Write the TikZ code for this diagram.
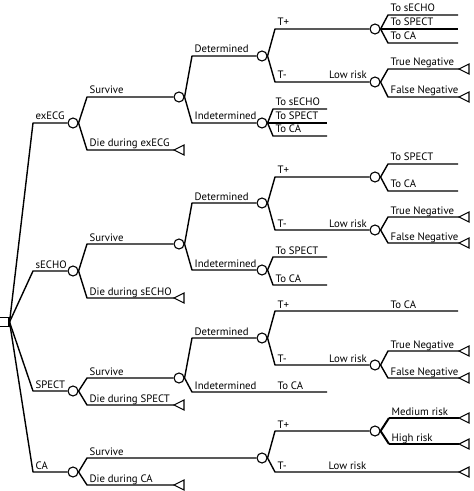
\documentclass[tikz,border=0pt]{standalone}
\usepackage{fontspec}
\setmainfont{PT Sans}
\newcommand\lblfont{\fontsize{10.8}{12}\selectfont}
\tikzset{
  ln/.style={line width=1.4bp, line join=round},
  thk/.style={line width=2bp},
  chance/.style={circle, draw, line width=1.1bp, minimum size=10bp, inner sep=0pt, fill=white},
  rootbox/.style={rectangle, draw, line width=1.1bp, minimum width=12bp, minimum height=9bp, inner sep=0pt},
  lbl/.style={anchor=base west, xshift=2.5bp, yshift=3bp, inner sep=0pt, font=\lblfont},
  lblr/.style={anchor=base east, yshift=3bp, inner sep=0pt, font=\lblfont},
  termtri/.style={line width=1.1bp}
}
\newcommand\term[1]{\draw[termtri] (#1) -- ++(10,-5) -- ++(0,10) -- cycle;}
\begin{document}
\begin{tikzpicture}[x=1bp,y=-1bp]
\useasboundingbox (0,0) rectangle (474,491);
% root
\node[rootbox] (root) at (3,322) {};
% level 1
\node[chance] (e1) at (73,123) {};
\node[chance] (s1) at (73,271) {};
\node[chance] (p1) at (73,391) {};
\node[chance] (c1) at (73,472) {};
\coordinate (ke1) at (33,123);
\coordinate (ks1) at (33,271);
\coordinate (kp1) at (33,391);
\coordinate (kc1) at (33,472);
\draw[ln] (root.east) -- (ke1) -- (e1);
\draw[ln] (root.east) -- (ks1) -- (s1);
\draw[ln] (root.east) -- (kp1) -- (p1);
\draw[ln] (root.east) -- (kc1) -- (c1);
\node[lbl] (Le1) at (ke1) {exECG};
\node[lbl] (Ls1) at (ks1) {sECHO};
\node[lbl] (Lp1) at (kp1) {SPECT};
\node[lbl] (Lc1) at (kc1) {CA};

% ================= exECG =================
\node[chance] (e2) at (179,97) {};
\coordinate (ke2) at (87,97);
\coordinate (ke2d) at (87,150);
\coordinate (te2d) at (174,150);
\draw[ln] (e1.east) -- (ke2) -- (e2);
\draw[ln] (e1.east) -- (ke2d) -- (te2d);
\term{te2d}
\node[lbl] (Le2) at (ke2) {Survive};
\node[lbl] (Le2d) at (ke2d) {Die during exECG};

\node[chance] (e3) at (262,56) {};
\node[chance] (e3i) at (262,123) {};
\coordinate (ke3) at (192,56);
\coordinate (ke3i) at (192,123);
\draw[ln] (e2.east) -- (ke3) -- (e3);
\draw[ln] (e2.east) -- (ke3i) -- (e3i);
\node[lbl] (Le3) at (ke3) {Determined};
\node[lbl] (Le3i) at (ke3i) {Indetermined};

\node[chance] (e4p) at (375,29) {};
\node[chance] (e4n) at (375,82) {};
\coordinate (ke4p) at (275,29);
\coordinate (ke4n) at (275,82);
\draw[ln] (e3.east) -- (ke4p) -- (e4p);
\draw[ln] (e3.east) -- (ke4n) -- (e4n);
\node[lbl] (Le4p) at (ke4p) {T+};
\node[lbl] (Le4n) at (ke4n) {T-};
\node[lblr] (Le4nr) at (367,82) {Low risk};

\coordinate (ke5a) at (388,15); \coordinate (xe5a) at (458,15);
\coordinate (xe5b) at (458,29);
\coordinate (ke5c) at (388,43); \coordinate (xe5c) at (458,43);
\draw[ln] (e4p.east) -- (ke5a) -- (xe5a);
\draw[ln] (e4p.east) -- (xe5b);
\draw[ln] (e4p.east) -- (ke5c) -- (xe5c);
\node[lbl] (Le5a) at (ke5a) {To sECHO};
\node[lbl] (Le5b) at (388,29) {To SPECT};
\node[lbl] (Le5c) at (ke5c) {To CA};

\coordinate (ke5t) at (388,69); \coordinate (te5t) at (459,69);
\coordinate (ke5f) at (388,97); \coordinate (te5f) at (459,97);
\draw[ln] (e4n.east) -- (ke5t) -- (te5t);
\draw[ln] (e4n.east) -- (ke5f) -- (te5f);
\term{te5t}
\term{te5f}
\node[lbl] (Le5t) at (ke5t) {True Negative};
\node[lbl] (Le5f) at (ke5f) {False Negative};

\coordinate (ke4a) at (273,109); \coordinate (xe4a) at (327,109);
\coordinate (xe4b) at (327,123);
\coordinate (ke4c) at (273,136); \coordinate (xe4c) at (327,136);
\draw[ln] (e3i.east) -- (ke4a) -- (xe4a);
\draw[ln] (e3i.east) -- (xe4b);
\draw[ln] (e3i.east) -- (ke4c) -- (xe4c);
\node[lbl] (Le4a) at (ke4a) {To sECHO};
\node[lbl] (Le4b) at (273,123) {To SPECT};
\node[lbl] (Le4c) at (ke4c) {To CA};

% ================= sECHO =================
\node[chance] (s2) at (179,244) {};
\coordinate (ks2) at (87,244);
\coordinate (ks2d) at (87,298);
\coordinate (ts2d) at (174,298);
\draw[ln] (s1.east) -- (ks2) -- (s2);
\draw[ln] (s1.east) -- (ks2d) -- (ts2d);
\term{ts2d}
\node[lbl] (Ls2) at (ks2) {Survive};
\node[lbl] (Ls2d) at (ks2d) {Die during sECHO};

\node[chance] (s3) at (262,203) {};
\node[chance] (s3i) at (262,270) {};
\coordinate (ks3) at (192,203);
\coordinate (ks3i) at (192,270);
\draw[ln] (s2.east) -- (ks3) -- (s3);
\draw[ln] (s2.east) -- (ks3i) -- (s3i);
\node[lbl] (Ls3) at (ks3) {Determined};
\node[lbl] (Ls3i) at (ks3i) {Indetermined};

\node[chance] (s4p) at (375,177) {};
\node[chance] (s4n) at (375,230) {};
\coordinate (ks4p) at (275,177);
\coordinate (ks4n) at (275,230);
\draw[ln] (s3.east) -- (ks4p) -- (s4p);
\draw[ln] (s3.east) -- (ks4n) -- (s4n);
\node[lbl] (Ls4p) at (ks4p) {T+};
\node[lbl] (Ls4n) at (ks4n) {T-};
\node[lblr] (Ls4nr) at (367,230) {Low risk};

\coordinate (ks5a) at (388,164); \coordinate (xs5a) at (458,164);
\coordinate (ks5c) at (388,191); \coordinate (xs5c) at (458,191);
\draw[ln] (s4p.east) -- (ks5a) -- (xs5a);
\draw[ln] (s4p.east) -- (ks5c) -- (xs5c);
\node[lbl] (Ls5a) at (ks5a) {To SPECT};
\node[lbl] (Ls5c) at (ks5c) {To CA};

\coordinate (ks5t) at (388,217); \coordinate (ts5t) at (459,217);
\coordinate (ks5f) at (388,243); \coordinate (ts5f) at (459,243);
\draw[ln] (s4n.east) -- (ks5t) -- (ts5t);
\draw[ln] (s4n.east) -- (ks5f) -- (ts5f);
\term{ts5t}
\term{ts5f}
\node[lbl] (Ls5t) at (ks5t) {True Negative};
\node[lbl] (Ls5f) at (ks5f) {False Negative};

\coordinate (ks4a) at (273,257); \coordinate (xs4a) at (327,257);
\coordinate (ks4c) at (273,285); \coordinate (xs4c) at (327,285);
\draw[ln] (s3i.east) -- (ks4a) -- (xs4a);
\draw[ln] (s3i.east) -- (ks4c) -- (xs4c);
\node[lbl] (Ls4a) at (ks4a) {To SPECT};
\node[lbl] (Ls4c) at (ks4c) {To CA};

% ================= SPECT =================
\node[chance] (p2) at (179,378) {};
\coordinate (kp2) at (87,378);
\coordinate (kp2d) at (87,405);
\coordinate (tp2d) at (174,405);
\draw[ln] (p1.east) -- (kp2) -- (p2);
\draw[ln] (p1.east) -- (kp2d) -- (tp2d);
\term{tp2d}
\node[lbl] (Lp2) at (kp2) {Survive};
\node[lbl] (Lp2d) at (kp2d) {Die during SPECT};

\node[chance] (p3) at (262,338) {};
\coordinate (kp3) at (192,338);
\coordinate (kp3i) at (192,392);
\coordinate (xp3i) at (327,392);
\draw[ln] (p2.east) -- (kp3) -- (p3);
\draw[ln] (p2.east) -- (kp3i) -- (xp3i);
\node[lbl] (Lp3) at (kp3) {Determined};
\node[lbl] (Lp3i) at (kp3i) {Indetermined};
\node[lbl] (Lp3ib) at (275,392) {To CA};

\node[chance] (p4n) at (375,365) {};
\coordinate (kp4p) at (275,311);
\coordinate (xp4p) at (458,311);
\coordinate (kp4n) at (275,365);
\draw[ln] (p3.east) -- (kp4p) -- (xp4p);
\draw[ln] (p3.east) -- (kp4n) -- (p4n);
\node[lbl] (Lp4p) at (kp4p) {T+};
\node[lbl] (Lp4pb) at (388,311) {To CA};
\node[lbl] (Lp4n) at (kp4n) {T-};
\node[lblr] (Lp4nr) at (367,365) {Low risk};

\coordinate (kp5t) at (388,351); \coordinate (tp5t) at (459,351);
\coordinate (kp5f) at (388,378); \coordinate (tp5f) at (459,378);
\draw[ln] (p4n.east) -- (kp5t) -- (tp5t);
\draw[ln] (p4n.east) -- (kp5f) -- (tp5f);
\term{tp5t}
\term{tp5f}
\node[lbl] (Lp5t) at (kp5t) {True Negative};
\node[lbl] (Lp5f) at (kp5f) {False Negative};

% ================= CA =================
\node[chance] (c3) at (262,458) {};
\coordinate (kc2) at (87,458);
\coordinate (kc2d) at (87,485);
\coordinate (tc2d) at (174,485);
\draw[ln] (c1.east) -- (kc2) -- (c3);
\draw[ln] (c1.east) -- (kc2d) -- (tc2d);
\term{tc2d}
\node[lbl] (Lc2) at (kc2) {Survive};
\node[lbl] (Lc2d) at (kc2d) {Die during CA};

\node[chance] (c4p) at (375,431) {};
\coordinate (kc4p) at (275,431);
\coordinate (kc4n) at (275,472);
\coordinate (tc4n) at (459,472);
\draw[ln] (c3.east) -- (kc4p) -- (c4p);
\draw[ln] (c3.east) -- (kc4n) -- (tc4n);
\term{tc4n}
\node[lbl] (Lc4p) at (kc4p) {T+};
\node[lbl] (Lc4n) at (kc4n) {T-};
\node[lbl] (Lc4nr) at (326,472) {Low risk};

\coordinate (kc5m) at (389,418); \coordinate (tc5m) at (459,418);
\coordinate (kc5h) at (389,444); \coordinate (tc5h) at (459,444);
\draw[thk] (c4p.east) -- (kc5m);
\draw[ln] (kc5m) -- (tc5m);
\draw[thk] (c4p.east) -- (kc5h);
\draw[ln] (kc5h) -- (tc5h);
\term{tc5m}
\term{tc5h}
\node[lbl] (Lc5m) at (kc5m) {Medium risk};
\node[lbl] (Lc5h) at (kc5h) {High risk};
\end{tikzpicture}
\end{document}
